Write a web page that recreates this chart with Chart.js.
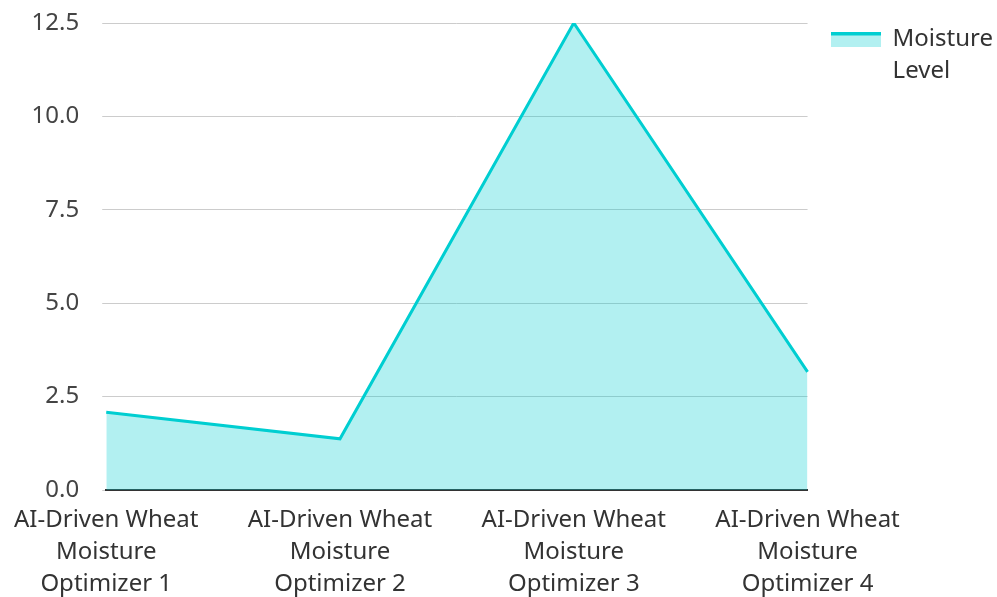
<!DOCTYPE html>
<html>
<head>
<meta charset="utf-8">
<script src="https://cdn.jsdelivr.net/npm/chart.js@4"></script>
<style>
  html, body { margin: 0; padding: 0; background: #fff; }
  #wrap { width: 997px; height: 597px; }
</style>
</head>
<body>
<div id="wrap"><canvas id="myChart"></canvas></div>
<script>
const categories = [
  ['AI-Driven Wheat', 'Moisture', 'Optimizer 1'],
  ['AI-Driven Wheat', 'Moisture', 'Optimizer 2'],
  ['AI-Driven Wheat', 'Moisture', 'Optimizer 3'],
  ['AI-Driven Wheat', 'Moisture', 'Optimizer 4']
];
const moistureLevel = [2.08, 1.37, 12.5, 3.16];
const seriesLabel = ['Moisture', 'Level'];
const yTicks = [0, 2.5, 5, 7.5, 10, 12.5];

const lineColor = 'rgb(0, 206, 209)';
const fillColor = 'rgba(0, 206, 209, 0.3)';

// legend swatch: light box with the line colour along the top
const swatch = document.createElement('canvas');
swatch.width = 50;
swatch.height = 15;
const sctx = swatch.getContext('2d');
sctx.fillStyle = fillColor;
sctx.fillRect(0, 0, 50, 15);
sctx.fillStyle = lineColor;
sctx.fillRect(0, 0, 50, 4);

Chart.defaults.font.family = '"Noto Sans", sans-serif';
Chart.defaults.color = '#333';

const ctx = document.getElementById('myChart');

const chartData = {
  labels: categories,
  datasets: [{
    label: seriesLabel,
    data: moistureLevel,
    fill: true,
    borderColor: lineColor,
    backgroundColor: fillColor,
    borderWidth: 3,
    pointRadius: 0,
    tension: 0
  }]
};

const chartConfig = {
  type: 'line',
  data: chartData,
  options: {
    responsive: true,
    maintainAspectRatio: false,
    animation: false,
    layout: { padding: { top: 4, right: -6, bottom: 0, left: 8 } },
    plugins: {
      tooltip: { enabled: false },
      legend: {
        position: 'right',
        align: 'start',
        labels: {
          usePointStyle: true,
          pointStyle: swatch,
          pointStyleWidth: 50,
          boxHeight: 15,
          padding: 23,
          font: { size: 24, lineHeight: '32px' },
          color: '#333',
          generateLabels: (chart) => [{
            text: seriesLabel,
            pointStyle: swatch,
            fillStyle: fillColor,
            strokeStyle: lineColor,
            fontColor: '#333',
            lineWidth: 0,
            datasetIndex: 0
          }]
        }
      }
    },
    scales: {
      x: {
        offset: false,
        grid: { display: false, drawTicks: false },
        border: { display: true, color: '#333', width: 2 },
        ticks: {
          maxRotation: 0,
          autoSkip: false,
          padding: 14,
          font: { size: 24, lineHeight: '32px' },
          color: '#333'
        },
        afterFit: (axis) => { axis.height = 107; }
      },
      y: {
        min: 0,
        max: 12.5,
        afterBuildTicks: (axis) => {
          axis.ticks = yTicks.map(v => ({ value: v }));
        },
        afterFit: (axis) => { axis.paddingTop = 23; axis.paddingBottom = 0; },
        grid: { color: '#cccccc', lineWidth: 1, tickLength: 4 },
        border: { display: false },
        ticks: {
          padding: 23,
          font: { size: 24 },
          color: '#444',
          callback: (v) => v.toFixed(1)
        }
      }
    }
  }
};

new Chart(ctx, chartConfig);
</script>
</body>
</html>
